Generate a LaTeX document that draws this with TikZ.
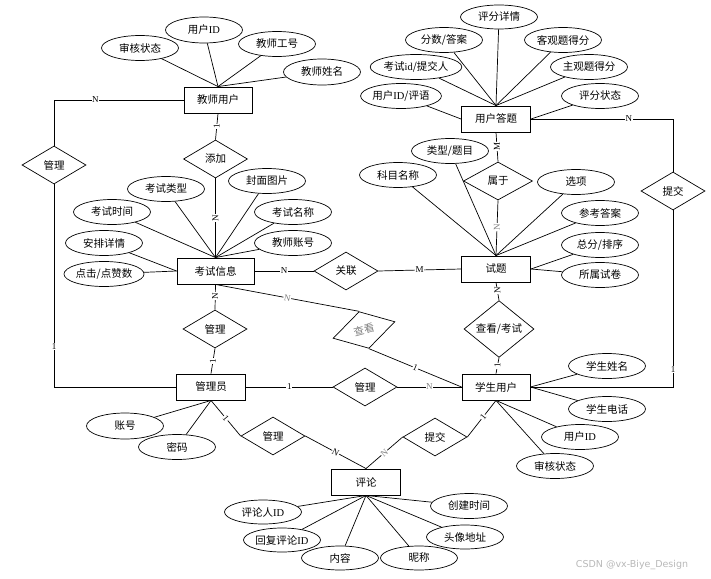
\documentclass[tikz,border=0pt]{standalone}
\usepackage{fontspec}
\setmainfont{Liberation Serif}
\newfontfamily\cjk{Noto Sans CJK SC}
\newfontfamily\wmfont{DejaVu Sans}
\usetikzlibrary{shapes.geometric,calc}
\begin{document}
\begin{tikzpicture}[x=1pt,y=-1pt,
 every node/.style={font=\cjk\fontsize{10.5}{12}\selectfont},
 ent/.style={draw, line width=0.9pt, fill=white, minimum width=68pt, minimum height=26pt, inner sep=0pt},
 attr/.style={ellipse, draw, line width=0.7pt, fill=white, minimum width=77pt, minimum height=25pt, inner sep=0pt},
 rel/.style={diamond, draw, line width=0.7pt, fill=white, minimum width=64pt, minimum height=38pt, inner sep=0pt},
 lbl/.style={font=\rmfamily\fontsize{9}{10}\selectfont, fill=white, inner sep=0.6pt},
 ln/.style={line width=0.7pt},
]
\fill[white] (0,0) rectangle (711,578);
\useasboundingbox (0,0) rectangle (711,578);

% entities
\node[ent] (T) at (218,100) {教师用户};
\node[ent, minimum width=77pt] (E) at (215.5,271) {考试信息};
\node[ent, minimum width=69pt] (A) at (211,387) {管理员};
\node[ent, minimum width=69pt] (Q) at (496,269) {试题};
\node[ent, minimum width=69pt] (U) at (496,119) {用户答题};
\node[ent] (S) at (496,387) {学生用户};
\node[ent, minimum width=69pt] (C) at (366,482) {评论};

% relations
\node[rel] (rT) at (54,165) {管理};
\node[rel] (rAdd) at (215.5,159) {添加};
\node[rel] (rGuan) at (346,271) {关联};
\node[rel] (rE) at (215,329) {管理};
\node[rel] (rA) at (365,387) {管理};
\node[rel] (rB) at (273,436) {管理};
\node[rel, rotate=15, text=gray] (rView) at (364,330) {查看};
\node[rel, minimum width=69pt] (rBelong) at (498,181) {属于};
\node[rel, minimum width=70pt] (rCheck) at (499,329) {查看/考试};
\node[rel] (rSub) at (673,191) {提交};
\node[rel] (rSubC) at (435,437) {提交};

% attributes of 教师用户
\node[attr] (t1) at (140,48) {审核状态};
\node[attr, minimum height=26pt] (t2) at (204,30) {用户{\rmfamily ID}};
\node[attr] (t3) at (277,44) {教师工号};
\node[attr, minimum height=26pt] (t4) at (322,72) {教师姓名};
% attributes of 考试信息
\node[attr] (e1) at (166,189) {考试类型};
\node[attr] (e2) at (267,181) {封面图片};
\node[attr] (e3) at (112,212) {考试时间};
\node[attr] (e4) at (293,212) {考试名称};
\node[attr] (e5) at (104,243) {安排详情};
\node[attr] (e6) at (293,243) {教师账号};
\node[attr] (e7) at (104,274) {点击/点赞数};
% attributes of 用户答题
\node[attr, minimum height=24pt] (u1) at (499,17) {评分详情};
\node[attr] (u2) at (444,40) {分数/答案};
\node[attr] (u3) at (563,40) {客观题得分};
\node[attr] (u4) at (416,67) {考试{\rmfamily id}/提交人};
\node[attr] (u5) at (589,67) {主观题得分};
\node[attr] (u6) at (401,96) {用户{\rmfamily ID}/评语};
\node[attr] (u7) at (600,96) {评分状态};
% attributes of 试题
\node[attr] (q1) at (398,175) {科目名称};
\node[attr] (q2) at (450,151) {类型/题目};
\node[attr] (q3) at (576,182) {选项};
\node[attr] (q4) at (600,213) {参考答案};
\node[attr] (q5) at (600,245) {总分/排序};
\node[attr] (q6) at (600,275) {所属试卷};
% attributes of 学生用户
\node[attr] (s1) at (607,366) {学生姓名};
\node[attr] (s2) at (607,409) {学生电话};
\node[attr] (s3) at (580,437) {用户{\rmfamily ID}};
\node[attr] (s4) at (555,466) {审核状态};
% attributes of 管理员
\node[attr, minimum height=26pt] (a1) at (125,426) {账号};
\node[attr] (a2) at (177,447) {密码};
% attributes of 评论
\node[attr, minimum height=24pt] (c1) at (263,512) {评论人{\rmfamily ID}};
\node[attr, minimum height=24pt] (c2) at (282,540) {回复评论{\rmfamily ID}};
\node[attr, minimum height=24pt] (c3) at (340,558) {内容};
\node[attr, minimum height=24pt] (c4) at (419,558) {昵称};
\node[attr] (c5) at (469,506) {创建时间};
\node[attr, minimum height=24pt] (c6) at (465,537) {头像地址};

% attribute lines
\foreach \a in {t1,t2,t3,t4} \draw[ln] (\a) -- (T.north);
\foreach \a in {e1,e2,e3,e4,e6} \draw[ln] (\a) -- (E.north);
\foreach \a in {e5,e7} \draw[ln] (\a) -- (E.west);
\foreach \a in {u1,u2,u3,u4,u5} \draw[ln] (\a) -- (U.north);
\draw[ln] (u6) -- (U.west);
\draw[ln] (u7) -- (U.east);
\foreach \a in {q1,q2,q3,q4} \draw[ln] (\a) -- (Q.north);
\foreach \a in {q5,q6} \draw[ln] (\a) -- (Q.east);
\foreach \a in {s1,s2} \draw[ln] (\a) -- (S.east);
\foreach \a in {s3,s4} \draw[ln] (\a) -- (S.south);
\foreach \a in {a1,a2} \draw[ln] (\a) -- (A.south);
\foreach \a in {c1,c2,c3,c4,c5,c6} \draw[ln] (\a) -- (C.south);

% relationship lines
\draw[ln] (T.west) -- node[lbl,pos=.68]{N} (rT.north |- T.west) -- (rT.north);
\draw[ln] (rT.south) -- node[lbl,pos=.8]{1} (rT.south |- A.west) -- (A.west);
\draw[ln] (T.south) -- node[lbl,rotate=90]{1} (rAdd.north);
\draw[ln] (rAdd.south) -- node[lbl,rotate=90]{N} (E.north);
\draw[ln] (E.south) -- node[lbl,rotate=90,pos=.45]{N} (rE.north);
\draw[ln] (rE.south) -- node[lbl,rotate=90]{1} (A.north);
\draw[ln] (E.east) -- node[lbl]{N} (rGuan.west);
\draw[ln] (rGuan.east) -- node[lbl]{M} (Q.west);
\draw[ln] (U.south) -- node[lbl,rotate=90,pos=.47]{M} (rBelong.north);
\draw[ln] (rBelong.south) -- node[lbl,rotate=90,pos=.48,text=gray]{N} (Q.north);
\draw[ln] (Q.south) -- node[lbl,rotate=90,pos=.46]{N} (rCheck.north);
\draw[ln] (rCheck.south) -- node[lbl,rotate=90]{1} (S.north);
\draw[ln] (U.east) -- node[lbl,pos=.69]{N} (rSub.north |- U.east) -- (rSub.north);
\draw[ln] (rSub.south) -- node[lbl,pos=.9]{1} (rSub.south |- S.east) -- (S.east);
\draw[ln] (A.east) -- node[lbl]{1} (rA.west);
\draw[ln] (rA.east) -- node[lbl,text=gray]{N} (S.west);
\draw[ln] (A.south) -- node[lbl,sloped]{1} (rB.west);
\draw[ln] (rB.east) -- node[lbl,sloped]{N} (C.north);
\draw[ln] (S.south) -- node[lbl,sloped,pos=.45]{1} (rSubC.east);
\draw[ln] (rSubC.west) -- node[lbl,sloped,text=gray]{N} (C.north);
\draw[ln] (E.south) -- node[lbl,sloped,text=gray]{N} (rView.north);
\draw[ln] (rView.south) -- node[lbl,sloped]{1} (S.west);

% watermark
\node[font=\wmfont\fontsize{9.5}{11}\selectfont, text=gray!55] (wm) at (632,565) {CSDN @vx-Biye\_Design};
\end{tikzpicture}
\end{document}
